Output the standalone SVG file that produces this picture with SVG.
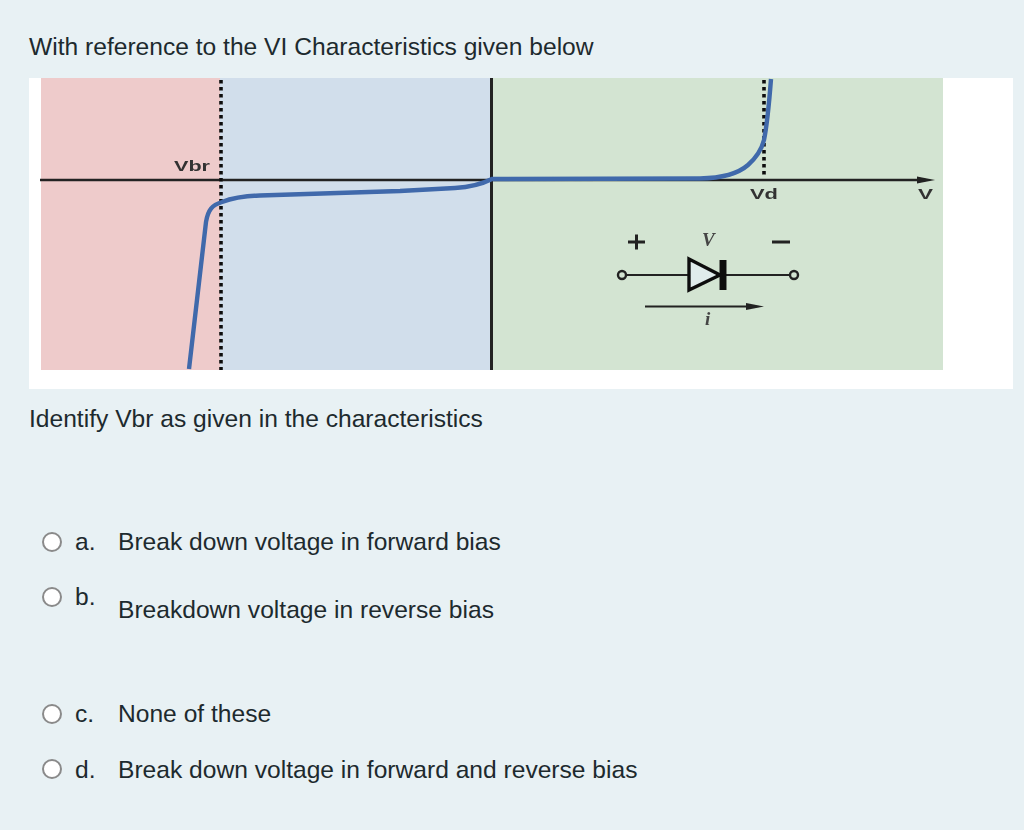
<svg xmlns="http://www.w3.org/2000/svg" width="1024" height="830" viewBox="0 0 1024 830">
<defs>
<style>
.t{font-family:"Liberation Sans",Arial,sans-serif;font-size:24.6px;fill:#1d2a2e}
.lab{font-family:"Liberation Sans",Arial,sans-serif;font-size:15px;font-weight:bold;fill:#333}
.it{font-family:"Liberation Serif",serif;font-style:italic;font-weight:bold;font-size:19px;fill:#444}
.radio{fill:#fff;stroke:#8a8a8a;stroke-width:2}
.axis{stroke:#222;fill:none}
.dot{stroke:#111;stroke-width:3.6;stroke-dasharray:3.5 3.5;fill:none}
.curve{stroke:#3f69ab;stroke-width:4.4;fill:none}
</style>
<filter id="b" x="-5%" y="-5%" width="110%" height="110%"><feGaussianBlur stdDeviation="0.6"/></filter>
</defs>
<rect width="1024" height="830" fill="#e8f1f4"/>
<text class="t" x="29" y="55">With reference to the VI Characteristics given below</text>
<g id="chart">
<rect x="29" y="78" width="984" height="311" fill="#fff"/>
<rect x="41" y="78" width="179" height="292" fill="#eecbcb"/>
<rect x="220" y="78" width="272" height="292" fill="#d1deeb"/>
<rect x="492" y="78" width="451" height="292" fill="#d3e4d2"/>
<g filter="url(#b)">
<g id="connectors">
<path class="axis" stroke-width="2.6" d="M40 180H925"/>
<path d="M917 176.500L935 180L917 183.500Z" fill="#222"/>
<path class="axis" stroke-width="3" d="M491.500 78V370"/>
<path class="dot" d="M221 80V370"/>
<path class="dot" d="M764 80V177"/>
<path class="curve" d="M189 369L206 222C208 210 212 205 222 202C232 198 245 196 260 195.500L400 191L455 188C472 187 482 184 492 179L700 178.500C725 178 740 172 748 165C757 157 762 148 764 140C767 125 769 105 771 79"/>
</g>
<g id="diode">
<path d="M626 275H689M725 275H790" stroke="#222" stroke-width="2" fill="none"/>
<circle cx="622" cy="275" r="4" fill="none" stroke="#222" stroke-width="2.400"/>
<circle cx="794" cy="275" r="4" fill="none" stroke="#222" stroke-width="2.400"/>
<path d="M689 259V290L720 275Z" fill="#e0ecec" stroke="#111" stroke-width="3.400"/>
<rect x="719.500" y="260" width="7" height="30" fill="#111"/>
<path d="M645 306.500H750" stroke="#222" stroke-width="2"/>
<path d="M746 303L764 306.500L746 310Z" fill="#222"/>
<path d="M628 242H645M636.500 234.500V249.500M772 242H790" stroke="#222" stroke-width="3" fill="none"/>
</g>
<text class="lab" x="174" y="171" textLength="36" lengthAdjust="spacingAndGlyphs">Vbr</text>
<text class="lab" x="750" y="199" textLength="28" lengthAdjust="spacingAndGlyphs">Vd</text>
<text class="lab" x="918" y="199" textLength="15" lengthAdjust="spacingAndGlyphs">V</text>
<text class="it" x="702" y="246">V</text>
<text class="it" x="705" y="325">i</text>
</g>
</g>
<text class="t" x="29" y="427">Identify Vbr as given in the characteristics</text>
<g id="option-a"><circle class="radio" cx="52" cy="542" r="9"/><text class="t" x="75" y="550">a.</text><text class="t" x="118" y="550">Break down voltage in forward bias</text></g>
<g id="option-b"><circle class="radio" cx="52" cy="597" r="9"/><text class="t" x="75" y="605">b.</text><text class="t" x="118" y="618">Breakdown voltage in reverse bias</text></g>
<g id="option-c"><circle class="radio" cx="52" cy="714" r="9"/><text class="t" x="75" y="722">c.</text><text class="t" x="118" y="722">None of these</text></g>
<g id="option-d"><circle class="radio" cx="52" cy="769" r="9"/><text class="t" x="75" y="778">d.</text><text class="t" x="118" y="778">Break down voltage in forward and reverse bias</text></g>
</svg>
